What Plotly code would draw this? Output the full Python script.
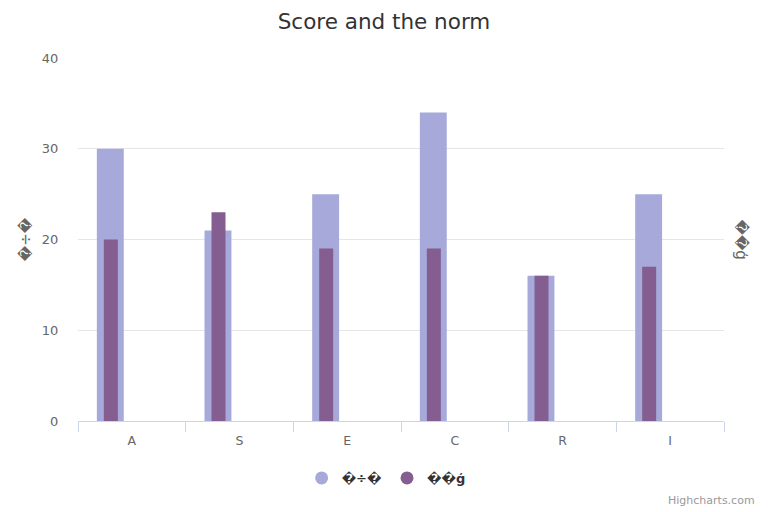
import plotly.graph_objects as go

categories = ["A", "S", "E", "C", "R", "I"]
score = [30, 21, 25, 34, 16, 25]
norm = [20, 23, 19, 19, 16, 17]
name_score = "\ufffd\u00f7\ufffd"
name_norm = "\ufffd\ufffd\u0123"
blue = "#a6a9da"
purple = "#845e90"
font = "DejaVu Sans"

fig = go.Figure()
fig.add_trace(go.Bar(x=categories, y=score, name=name_score, marker=dict(color=blue, line=dict(width=0)),
                     width=0.25, offset=-0.325, showlegend=False))
fig.add_trace(go.Bar(x=categories, y=norm, name=name_norm, marker=dict(color=purple, line=dict(width=0)),
                     width=0.13, offset=-0.26, showlegend=False))
# legend entries with circle symbols
fig.add_trace(go.Scatter(x=[None], y=[None], mode="markers", name=name_score,
                         marker=dict(color=blue, size=13, symbol="circle")))
fig.add_trace(go.Scatter(x=[None], y=[None], mode="markers", name=name_norm,
                         marker=dict(color=purple, size=13, symbol="circle")))

fig.update_layout(
    width=768, height=512,
    margin=dict(l=78, r=44, t=58, b=91),
    paper_bgcolor="white", plot_bgcolor="white",
    barmode="overlay",
    font=dict(family=font, color="#666666", size=12),
    title=dict(text="Score and the norm", x=0.5, xanchor="center", y=0.958, yanchor="middle",
               font=dict(family=font, size=21.5, color="#333333")),
    xaxis=dict(type="category", showline=True, linecolor="#ccd6eb", linewidth=1,
               ticks="outside", tickson="boundaries", ticklen=10, tickcolor="#ccd6eb",
               ticklabelstandoff=8,
               showgrid=False, tickfont=dict(size=12.5, color="#666666")),
    yaxis=dict(range=[0, 40], tickvals=[0, 10, 20, 30, 40], showgrid=True, gridcolor="#e6e6e6",
               zeroline=False, showline=False, tickfont=dict(size=13, color="#666666"),
               ticks="outside", ticklen=16, tickcolor="rgba(0,0,0,0)",
               title=dict(text=name_score, font=dict(size=15, color="#666666"), standoff=6)),
    legend=dict(orientation="h", x=0.477, xanchor="center", y=-0.157, yanchor="middle",
                font=dict(family=font, size=13, color="#333333", weight="bold"),
                itemwidth=30, tracegroupgap=0),
    annotations=[
        dict(text=name_norm, x=1.0 + (741 - 724) / 646, xref="paper", y=0.5, yref="paper", showarrow=False,
             textangle=90, font=dict(size=15, color="#666666"), xanchor="center", yanchor="middle"),
        dict(text="Highcharts.com", xref="paper", yref="paper", x=1.0 + 33 / 646, y=-0.22,
             xanchor="right", yanchor="middle", showarrow=False,
             font=dict(size=11, color="#999999")),
    ],
)
fig.write_html("out.html")
